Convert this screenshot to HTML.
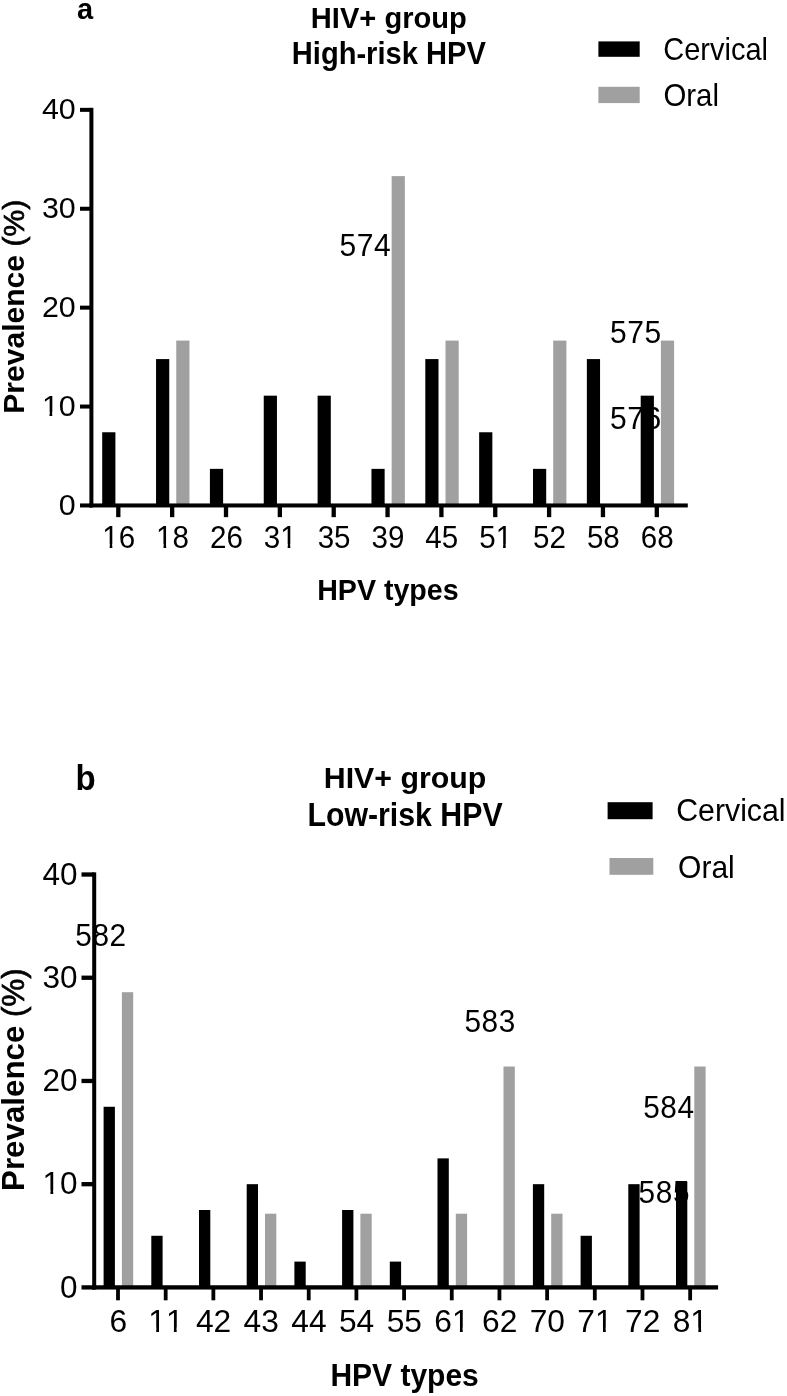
<!DOCTYPE html>
<html lang="en">
<head>
<meta charset="utf-8">
<title>HPV prevalence in HIV+ group</title>
<style>
html,body{margin:0;padding:0;background:#fff;}
body{width:787px;height:1396px;overflow:hidden;}
svg{display:block;}
svg text{font-family:'Liberation Sans', Arial, Helvetica, sans-serif;fill:#000;font-kerning:none;}
svg text.n{letter-spacing:0.6px;}
svg tspan.p{font-weight:normal;stroke:#000;stroke-width:0.7px;}
</style>
</head>
<body>
<svg width="787" height="1396" viewBox="0 0 787 1396">
<rect width="787" height="1396" fill="#fff"/>
<g id="chart-a">
<rect x="102.2" y="432.26" width="13.2" height="73.19" fill="#000"/>
<rect x="156.05" y="359.08" width="13.2" height="146.37" fill="#000"/>
<rect x="176.25" y="340.58" width="13.2" height="164.87" fill="#a0a0a0"/>
<rect x="209.9" y="468.86" width="13.2" height="36.59" fill="#000"/>
<rect x="263.75" y="395.67" width="13.2" height="109.78" fill="#000"/>
<rect x="317.6" y="395.67" width="13.2" height="109.78" fill="#000"/>
<rect x="371.45" y="468.86" width="13.2" height="36.59" fill="#000"/>
<rect x="391.65" y="176.11" width="13.2" height="329.34" fill="#a0a0a0"/>
<rect x="425.3" y="359.08" width="13.2" height="146.37" fill="#000"/>
<rect x="445.5" y="340.58" width="13.2" height="164.87" fill="#a0a0a0"/>
<rect x="479.15" y="432.26" width="13.2" height="73.19" fill="#000"/>
<rect x="533" y="468.86" width="13.2" height="36.59" fill="#000"/>
<rect x="553.2" y="340.58" width="13.2" height="164.87" fill="#a0a0a0"/>
<rect x="586.85" y="359.08" width="13.2" height="146.37" fill="#000"/>
<rect x="640.7" y="395.67" width="13.2" height="109.78" fill="#000"/>
<rect x="660.9" y="340.58" width="13.2" height="164.87" fill="#a0a0a0"/>
<rect x="89.4" y="107.85" width="4" height="399.6" fill="#000"/>
<rect x="89.4" y="503.45" width="598.4" height="4" fill="#000"/>
<rect x="80" y="503.45" width="11.4" height="4" fill="#000"/>
<text transform="translate(75.7,515.05)" font-size="30.4" text-anchor="end">0</text>
<rect x="80" y="404.55" width="11.4" height="4" fill="#000"/>
<text transform="translate(75.7,416.15)" font-size="30.4" text-anchor="end">10</text><g transform="translate(75.7,416.15)" fill="#fff"><rect x="-33.21" y="-3.87" width="7.04" height="4.87"/><rect x="-23.48" y="-3.87" width="6.85" height="4.87"/></g>
<rect x="80" y="305.65" width="11.4" height="4" fill="#000"/>
<text transform="translate(75.7,317.25)" font-size="30.4" text-anchor="end">20</text>
<rect x="80" y="206.75" width="11.4" height="4" fill="#000"/>
<text transform="translate(75.7,218.35)" font-size="30.4" text-anchor="end">30</text>
<rect x="80" y="107.85" width="11.4" height="4" fill="#000"/>
<text transform="translate(75.7,119.45)" font-size="30.4" text-anchor="end">40</text>
<rect x="116.15" y="505.45" width="4.3" height="11.7" fill="#000"/>
<text transform="translate(118.7,548.2) scale(1.020,1.060)" font-size="29" text-anchor="middle">16</text><g transform="translate(118.7,548.2) scale(1.020,1.060)" fill="#fff"><rect x="-15.55" y="-3.77" width="6.71" height="4.77"/><rect x="-6.27" y="-3.77" width="6.53" height="4.77"/></g>
<rect x="170" y="505.45" width="4.3" height="11.7" fill="#000"/>
<text transform="translate(172.55,548.2) scale(1.020,1.060)" font-size="29" text-anchor="middle">18</text><g transform="translate(172.55,548.2) scale(1.020,1.060)" fill="#fff"><rect x="-15.55" y="-3.77" width="6.71" height="4.77"/><rect x="-6.27" y="-3.77" width="6.53" height="4.77"/></g>
<rect x="223.85" y="505.45" width="4.3" height="11.7" fill="#000"/>
<text transform="translate(226.4,548.2) scale(1.020,1.060)" font-size="29" text-anchor="middle">26</text>
<rect x="277.7" y="505.45" width="4.3" height="11.7" fill="#000"/>
<text transform="translate(280.25,548.2) scale(1.020,1.060)" font-size="29" text-anchor="middle">31</text><g transform="translate(280.25,548.2) scale(1.020,1.060)" fill="#fff"><rect x="0.58" y="-3.77" width="6.71" height="4.77"/><rect x="9.85" y="-3.77" width="6.53" height="4.77"/></g>
<rect x="331.55" y="505.45" width="4.3" height="11.7" fill="#000"/>
<text transform="translate(334.1,548.2) scale(1.020,1.060)" font-size="29" text-anchor="middle">35</text>
<rect x="385.4" y="505.45" width="4.3" height="11.7" fill="#000"/>
<text transform="translate(387.95,548.2) scale(1.020,1.060)" font-size="29" text-anchor="middle">39</text>
<rect x="439.25" y="505.45" width="4.3" height="11.7" fill="#000"/>
<text transform="translate(441.8,548.2) scale(1.020,1.060)" font-size="29" text-anchor="middle">45</text>
<rect x="493.1" y="505.45" width="4.3" height="11.7" fill="#000"/>
<text transform="translate(495.65,548.2) scale(1.020,1.060)" font-size="29" text-anchor="middle">51</text><g transform="translate(495.65,548.2) scale(1.020,1.060)" fill="#fff"><rect x="0.58" y="-3.77" width="6.71" height="4.77"/><rect x="9.85" y="-3.77" width="6.53" height="4.77"/></g>
<rect x="546.95" y="505.45" width="4.3" height="11.7" fill="#000"/>
<text transform="translate(549.5,548.2) scale(1.020,1.060)" font-size="29" text-anchor="middle">52</text>
<rect x="600.8" y="505.45" width="4.3" height="11.7" fill="#000"/>
<text transform="translate(603.35,548.2) scale(1.020,1.060)" font-size="29" text-anchor="middle">58</text>
<rect x="654.65" y="505.45" width="4.3" height="11.7" fill="#000"/>
<text transform="translate(657.2,548.2) scale(1.020,1.060)" font-size="29" text-anchor="middle">68</text>
<text transform="translate(388.8,27.6) scale(1.000,1.010)" font-size="29.1" text-anchor="middle" font-weight="bold">HIV+ group</text>
<text transform="translate(388.8,63.7) scale(1.000,1.050)" font-size="29.1" text-anchor="middle" font-weight="bold">High-risk HPV</text>
<text transform="translate(77.1,18.6) scale(1.000,1.040)" font-size="29" font-weight="bold">a</text>
<text transform="translate(387.9,599.7) scale(1.000,1.050)" font-size="28.6" text-anchor="middle" font-weight="bold">HPV types</text>
<text transform="translate(24,306.8) rotate(-90)" font-size="30.1" text-anchor="middle" font-weight="bold">Prevalence <tspan class="p">(%)</tspan></text>
<rect x="598.4" y="41.4" width="41.3" height="15.4" fill="#000"/>
<rect x="598.4" y="86.8" width="41.3" height="16.3" fill="#a0a0a0"/>
<text transform="translate(663.3,59.6) scale(1.000,1.060)" font-size="29">Cervical</text>
<text transform="translate(663.4,105.6) scale(1.000,1.050)" font-size="29.4">Oral</text>
<text transform="translate(339.4,256) scale(0.950,1.000)" font-size="31.6" class="n">574</text>
<text transform="translate(609.9,342.8) scale(0.950,1.000)" font-size="31.6" class="n">575</text>
<text transform="translate(609.9,428.6) scale(0.950,1.000)" font-size="31.6" class="n">576</text>
</g>
<g id="chart-b">
<rect x="103.6" y="1106.77" width="11.3" height="180.63" fill="#000"/>
<rect x="121.9" y="992.19" width="11.3" height="295.21" fill="#a0a0a0"/>
<rect x="151.3" y="1235.79" width="11.3" height="51.61" fill="#000"/>
<rect x="199" y="1209.99" width="11.3" height="77.41" fill="#000"/>
<rect x="246.7" y="1184.18" width="11.3" height="103.22" fill="#000"/>
<rect x="265" y="1213.7" width="11.3" height="73.7" fill="#a0a0a0"/>
<rect x="294.4" y="1261.6" width="11.3" height="25.8" fill="#000"/>
<rect x="342.1" y="1209.99" width="11.3" height="77.41" fill="#000"/>
<rect x="360.4" y="1213.7" width="11.3" height="73.7" fill="#a0a0a0"/>
<rect x="389.8" y="1261.6" width="11.3" height="25.8" fill="#000"/>
<rect x="437.5" y="1158.38" width="11.3" height="129.02" fill="#000"/>
<rect x="455.8" y="1213.7" width="11.3" height="73.7" fill="#a0a0a0"/>
<rect x="503.5" y="1066.51" width="11.3" height="220.89" fill="#a0a0a0"/>
<rect x="532.9" y="1184.18" width="11.3" height="103.22" fill="#000"/>
<rect x="551.2" y="1213.7" width="11.3" height="73.7" fill="#a0a0a0"/>
<rect x="580.6" y="1235.79" width="11.3" height="51.61" fill="#000"/>
<rect x="628.3" y="1184.18" width="11.3" height="103.22" fill="#000"/>
<rect x="676" y="1182.12" width="11.3" height="105.28" fill="#000"/>
<rect x="694.3" y="1066.51" width="11.3" height="220.89" fill="#a0a0a0"/>
<rect x="92.2" y="872.37" width="4" height="417.18" fill="#000"/>
<rect x="92.2" y="1285.25" width="625.9" height="4.3" fill="#000"/>
<rect x="81.5" y="1285.25" width="12.7" height="4.3" fill="#000"/>
<text transform="translate(77.6,1297.6) scale(1.045,1.040)" font-size="30.2" text-anchor="end">0</text>
<rect x="81.5" y="1182.03" width="12.7" height="4.3" fill="#000"/>
<text transform="translate(77.6,1194.38) scale(1.045,1.040)" font-size="30.2" text-anchor="end">10</text><g transform="translate(77.6,1194.38) scale(1.045,1.040)" fill="#fff"><rect x="-32.99" y="-3.86" width="6.99" height="4.86"/><rect x="-23.33" y="-3.86" width="6.8" height="4.86"/></g>
<rect x="81.5" y="1078.81" width="12.7" height="4.3" fill="#000"/>
<text transform="translate(77.6,1091.16) scale(1.045,1.040)" font-size="30.2" text-anchor="end">20</text>
<rect x="81.5" y="975.59" width="12.7" height="4.3" fill="#000"/>
<text transform="translate(77.6,987.94) scale(1.045,1.040)" font-size="30.2" text-anchor="end">30</text>
<rect x="81.5" y="872.37" width="12.7" height="4.3" fill="#000"/>
<text transform="translate(77.6,884.72) scale(1.045,1.040)" font-size="30.2" text-anchor="end">40</text>
<rect x="116.1" y="1287.4" width="3.8" height="12.9" fill="#000"/>
<text transform="translate(118.2,1331.5) scale(1.030,1.040)" font-size="30.8" text-anchor="middle">6</text>
<rect x="163.78" y="1287.4" width="3.8" height="12.9" fill="#000"/>
<text transform="translate(165.88,1331.5) scale(1.030,1.040)" font-size="30.8" text-anchor="middle">11</text><g transform="translate(165.88,1331.5) scale(1.030,1.040)" fill="#fff"><rect x="-16.51" y="-3.9" width="7.13" height="4.9"/><rect x="-6.66" y="-3.9" width="6.94" height="4.9"/><rect x="0.62" y="-3.9" width="7.13" height="4.9"/><rect x="10.47" y="-3.9" width="6.94" height="4.9"/></g>
<rect x="211.46" y="1287.4" width="3.8" height="12.9" fill="#000"/>
<text transform="translate(213.56,1331.5) scale(1.030,1.040)" font-size="30.8" text-anchor="middle">42</text>
<rect x="259.14" y="1287.4" width="3.8" height="12.9" fill="#000"/>
<text transform="translate(261.24,1331.5) scale(1.030,1.040)" font-size="30.8" text-anchor="middle">43</text>
<rect x="306.82" y="1287.4" width="3.8" height="12.9" fill="#000"/>
<text transform="translate(308.92,1331.5) scale(1.030,1.040)" font-size="30.8" text-anchor="middle">44</text>
<rect x="354.5" y="1287.4" width="3.8" height="12.9" fill="#000"/>
<text transform="translate(356.6,1331.5) scale(1.030,1.040)" font-size="30.8" text-anchor="middle">54</text>
<rect x="402.18" y="1287.4" width="3.8" height="12.9" fill="#000"/>
<text transform="translate(404.28,1331.5) scale(1.030,1.040)" font-size="30.8" text-anchor="middle">55</text>
<rect x="449.86" y="1287.4" width="3.8" height="12.9" fill="#000"/>
<text transform="translate(451.96,1331.5) scale(1.030,1.040)" font-size="30.8" text-anchor="middle">61</text><g transform="translate(451.96,1331.5) scale(1.030,1.040)" fill="#fff"><rect x="0.62" y="-3.9" width="7.13" height="4.9"/><rect x="10.47" y="-3.9" width="6.94" height="4.9"/></g>
<rect x="497.54" y="1287.4" width="3.8" height="12.9" fill="#000"/>
<text transform="translate(499.64,1331.5) scale(1.030,1.040)" font-size="30.8" text-anchor="middle">62</text>
<rect x="545.22" y="1287.4" width="3.8" height="12.9" fill="#000"/>
<text transform="translate(547.32,1331.5) scale(1.030,1.040)" font-size="30.8" text-anchor="middle">70</text>
<rect x="592.9" y="1287.4" width="3.8" height="12.9" fill="#000"/>
<text transform="translate(595,1331.5) scale(1.030,1.040)" font-size="30.8" text-anchor="middle">71</text><g transform="translate(595,1331.5) scale(1.030,1.040)" fill="#fff"><rect x="0.62" y="-3.9" width="7.13" height="4.9"/><rect x="10.47" y="-3.9" width="6.94" height="4.9"/></g>
<rect x="640.58" y="1287.4" width="3.8" height="12.9" fill="#000"/>
<text transform="translate(642.68,1331.5) scale(1.030,1.040)" font-size="30.8" text-anchor="middle">72</text>
<rect x="688.26" y="1287.4" width="3.8" height="12.9" fill="#000"/>
<text transform="translate(690.36,1331.5) scale(1.030,1.040)" font-size="30.8" text-anchor="middle">81</text><g transform="translate(690.36,1331.5) scale(1.030,1.040)" fill="#fff"><rect x="0.62" y="-3.9" width="7.13" height="4.9"/><rect x="10.47" y="-3.9" width="6.94" height="4.9"/></g>
<text transform="translate(405,787.8)" font-size="30.3" text-anchor="middle" font-weight="bold">HIV+ group</text>
<text transform="translate(405,826.1) scale(1.000,1.080)" font-size="30.3" text-anchor="middle" font-weight="bold">Low-risk HPV</text>
<text transform="translate(75.5,789.8) scale(1.000,1.050)" font-size="33" font-weight="bold">b</text>
<text transform="translate(404.6,1386.1) scale(1.000,1.020)" font-size="30" text-anchor="middle" font-weight="bold">HPV types</text>
<text transform="translate(24.2,1079.6) rotate(-90)" font-size="31.3" text-anchor="middle" font-weight="bold">Prevalence <tspan class="p">(%)</tspan></text>
<rect x="607.6" y="802.2" width="45" height="17" fill="#000"/>
<rect x="609.5" y="858" width="43.8" height="16.8" fill="#a0a0a0"/>
<text transform="translate(676.2,820.6) scale(1.000,1.050)" font-size="30.3">Cervical</text>
<text transform="translate(678.1,877.7) scale(1.000,1.050)" font-size="30">Oral</text>
<text transform="translate(75.3,945.8) scale(0.955,1.000)" font-size="31.2" class="n">582</text>
<text transform="translate(464.4,1032) scale(0.955,1.000)" font-size="31.2" class="n">583</text>
<text transform="translate(643.2,1117.8) scale(0.955,1.000)" font-size="31.2" class="n">584</text>
<text transform="translate(638.6,1203.4) scale(0.955,1.000)" font-size="31.2" class="n">585</text>
</g>
</svg>
</body>
</html>
